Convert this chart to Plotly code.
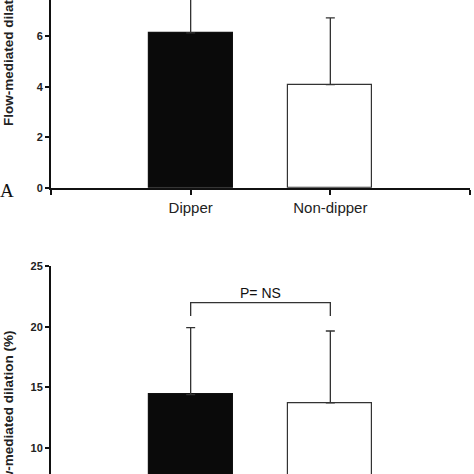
import plotly.graph_objects as go

# ---- data ----
categories = ["Dipper", "Non-dipper"]
fmd_top_mean = [6.13, 4.08]          # panel A, Flow-mediated dilation
fmd_top_upper = [8.7, 6.72]          # top of error bars
fmd_bottom_mean = [14.41, 13.72]     # panel B
fmd_bottom_upper = [19.93, 19.66]
p_label = "P= NS"
y_title = "Flow-mediated dilation (%)"
top_ticks = [0, 2, 4, 6]
bottom_ticks = [10, 15, 20, 25]

W = H = 474
def px_x(p): return p / W
def px_y(p): return 1 - p / H

xpos = list(range(len(categories)))
bar_colors = ["#0a0a0a", "#ffffff"]
bar_lines = ["#111111", "#333333"]

fig = go.Figure()
fig.add_trace(go.Bar(
    x=xpos, y=fmd_top_mean, width=0.6,
    marker=dict(color=bar_colors, line=dict(color=bar_lines, width=1.2)),
    error_y=dict(type="data", symmetric=False,
                 array=[u - m for u, m in zip(fmd_top_upper, fmd_top_mean)],
                 arrayminus=[0, 0], color="#333333", thickness=1.3, width=4.5),
    xaxis="x", yaxis="y", showlegend=False))
fig.add_trace(go.Bar(
    x=xpos, y=fmd_bottom_mean, width=0.6,
    marker=dict(color=bar_colors, line=dict(color=bar_lines, width=1.2)),
    error_y=dict(type="data", symmetric=False,
                 array=[u - m for u, m in zip(fmd_bottom_upper, fmd_bottom_mean)],
                 arrayminus=[0, 0], color="#333333", thickness=1.3, width=4.5),
    xaxis="x2", yaxis="y2", showlegend=False))

xdom = [px_x(51), px_x(470)]
tickfont_y = dict(family="Liberation Sans, Arial", size=11, color="#222222", weight="bold")

fig.update_layout(
    template="none",
    width=W, height=H, margin=dict(l=0, r=0, t=0, b=0, autoexpand=False),
    paper_bgcolor="white", plot_bgcolor="white",
    xaxis=dict(domain=xdom, range=[-1, 2], anchor="y", automargin=False,
               tickvals=[-1, 0, 1, 2], ticktext=["", categories[0], categories[1], ""],
               showline=True, linewidth=2, linecolor="#111111",
               ticks="outside", ticklen=5, tickwidth=2, tickcolor="#111111",
               showgrid=False, zeroline=False, ticklabelstandoff=0,
               tickfont=dict(family="Liberation Sans, Arial", size=15, color="#222222")),
    yaxis=dict(domain=[px_y(187.7), 1], range=[0, 7.43], anchor="x", automargin=False,
               tickvals=top_ticks, showline=True, linewidth=2, linecolor="#111111",
               ticks="outside", ticklen=4, tickwidth=2, tickcolor="#111111",
               showgrid=False, zeroline=False, tickfont=tickfont_y),
    xaxis2=dict(domain=xdom, range=[-1, 2], anchor="y2", visible=False, automargin=False),
    yaxis2=dict(domain=[0, px_y(266.3)], range=[7.855, 25], anchor="x2", automargin=False,
                tickvals=bottom_ticks, showline=True, linewidth=2, linecolor="#111111",
                ticks="outside", ticklen=4, tickwidth=2, tickcolor="#111111",
                showgrid=False, zeroline=False, tickfont=tickfont_y),
    bargap=0,
)

# significance bracket
fig.add_shape(type="path", xref="x2", yref="y2",
              path="M 0,20.9 L 0,22 L 1,22 L 1,20.9",
              line=dict(color="#333333", width=1.3))
fig.add_annotation(x=0.5, y=22.8, xref="x2", yref="y2", text=p_label, showarrow=False,
                   xanchor="center", yanchor="middle",
                   font=dict(family="Liberation Sans, Arial", size=14, color="#111111"))

# axis titles (partly outside the visible crop, as in the reference)
fig.add_annotation(x=px_x(9), y=px_y(41), xref="paper", yref="paper", text=y_title,
                   textangle=-90, showarrow=False, xanchor="center", yanchor="middle",
                   font=dict(family="Liberation Sans, Arial", size=13.5, color="#222222", weight="bold"))
fig.add_annotation(x=px_x(7.5), y=px_y(416), xref="paper", yref="paper", text=y_title,
                   textangle=-90, showarrow=False, xanchor="center", yanchor="middle",
                   font=dict(family="Liberation Sans, Arial", size=13.5, color="#222222", weight="bold"))
# panel label
fig.add_annotation(x=px_x(6.5), y=px_y(190), xref="paper", yref="paper", text="A",
                   showarrow=False, xanchor="center", yanchor="middle",
                   font=dict(family="Liberation Serif, Times New Roman", size=19, color="#111111"))

fig.write_html("out.html", config={"displayModeBar": False},
               post_script="document.body.style.margin='0px';")
